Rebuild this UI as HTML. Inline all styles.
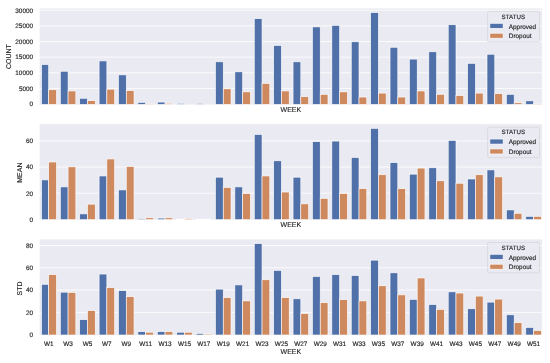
<!DOCTYPE html>
<html><head><meta charset="utf-8"><style>
html,body{margin:0;padding:0;background:#fff;}
body{width:550px;height:363px;overflow:hidden;}
svg{display:block;}
text{font-family:"Liberation Sans",Arial,sans-serif;fill:#262626;text-rendering:geometricPrecision;stroke:#262626;stroke-width:0.15px;}
.tk{font-size:6.4px;}
.lb{font-size:7.0px;}
.lt{font-size:6.2px;}
</style></head><body>
<svg width="550" height="363" viewBox="0 0 550 363">
<rect width="550" height="363" fill="#fff"/>
<rect x="39.3" y="8.05" width="503.1" height="96.45" fill="#EAEAF2"/>
<path d="M39.3 104.5V8.05H542.4V104.5" fill="none" stroke="#fff" stroke-width="0.7"/>
<text x="33.1" y="106.37" class="tk" text-anchor="end">0</text>
<line x1="39.3" y1="88.45" x2="542.4" y2="88.45" stroke="#fff" stroke-width="0.8"/>
<text x="33.1" y="90.73" class="tk" text-anchor="end">5000</text>
<line x1="39.3" y1="72.81" x2="542.4" y2="72.81" stroke="#fff" stroke-width="0.8"/>
<text x="33.1" y="75.08" class="tk" text-anchor="end">10000</text>
<line x1="39.3" y1="57.16" x2="542.4" y2="57.16" stroke="#fff" stroke-width="0.8"/>
<text x="33.1" y="59.43" class="tk" text-anchor="end">15000</text>
<line x1="39.3" y1="41.52" x2="542.4" y2="41.52" stroke="#fff" stroke-width="0.8"/>
<text x="33.1" y="43.79" class="tk" text-anchor="end">20000</text>
<line x1="39.3" y1="25.87" x2="542.4" y2="25.87" stroke="#fff" stroke-width="0.8"/>
<text x="33.1" y="28.14" class="tk" text-anchor="end">25000</text>
<line x1="39.3" y1="10.22" x2="542.4" y2="10.22" stroke="#fff" stroke-width="0.8"/>
<text x="33.1" y="12.5" class="tk" text-anchor="end">30000</text>
<rect x="41.63" y="64.56" width="7.06" height="39.84" fill="#5070A9" stroke="#fff" stroke-width="0.6"/>
<rect x="48.69" y="89.77" width="7.76" height="14.63" fill="#CF895F" stroke="#fff" stroke-width="0.6"/>
<rect x="60.32" y="71.24" width="7.76" height="33.16" fill="#5070A9" stroke="#fff" stroke-width="0.6"/>
<rect x="68.08" y="90.98" width="7.76" height="13.42" fill="#CF895F" stroke="#fff" stroke-width="0.6"/>
<rect x="79.72" y="98.27" width="7.76" height="6.13" fill="#5070A9" stroke="#fff" stroke-width="0.6"/>
<rect x="87.48" y="100.7" width="7.76" height="3.7" fill="#CF895F" stroke="#fff" stroke-width="0.6"/>
<rect x="99.11" y="60.91" width="7.76" height="43.49" fill="#5070A9" stroke="#fff" stroke-width="0.6"/>
<rect x="106.87" y="89.16" width="7.76" height="15.24" fill="#CF895F" stroke="#fff" stroke-width="0.6"/>
<rect x="118.51" y="74.88" width="7.76" height="29.52" fill="#5070A9" stroke="#fff" stroke-width="0.6"/>
<rect x="126.27" y="90.68" width="7.76" height="13.72" fill="#CF895F" stroke="#fff" stroke-width="0.6"/>
<rect x="137.9" y="102.35" width="7.76" height="2.05" fill="#5070A9" stroke="#fff" stroke-width="0.6"/>
<rect x="145.66" y="103.91" width="7.76" height="0.49" fill="#CF895F" stroke="#fff" stroke-width="0.6"/>
<rect x="157.3" y="102.07" width="7.76" height="2.33" fill="#5070A9" stroke="#fff" stroke-width="0.6"/>
<rect x="165.06" y="103.29" width="7.76" height="1.11" fill="#CF895F" stroke="#fff" stroke-width="0.6"/>
<rect x="176.69" y="103.43" width="7.76" height="0.97" fill="#5070A9" stroke="#fff" stroke-width="0.6"/>
<rect x="196.09" y="103.43" width="7.76" height="0.97" fill="#5070A9" stroke="#fff" stroke-width="0.6"/>
<rect x="215.48" y="61.82" width="7.76" height="42.58" fill="#5070A9" stroke="#fff" stroke-width="0.6"/>
<rect x="223.24" y="88.85" width="7.76" height="15.55" fill="#CF895F" stroke="#fff" stroke-width="0.6"/>
<rect x="234.88" y="71.85" width="7.76" height="32.55" fill="#5070A9" stroke="#fff" stroke-width="0.6"/>
<rect x="242.64" y="91.89" width="7.76" height="12.51" fill="#CF895F" stroke="#fff" stroke-width="0.6"/>
<rect x="254.27" y="18.7" width="7.76" height="85.7" fill="#5070A9" stroke="#fff" stroke-width="0.6"/>
<rect x="262.03" y="83.39" width="7.76" height="21.01" fill="#CF895F" stroke="#fff" stroke-width="0.6"/>
<rect x="273.67" y="45.42" width="7.76" height="58.98" fill="#5070A9" stroke="#fff" stroke-width="0.6"/>
<rect x="281.43" y="90.98" width="7.76" height="13.42" fill="#CF895F" stroke="#fff" stroke-width="0.6"/>
<rect x="293.06" y="61.82" width="7.76" height="42.58" fill="#5070A9" stroke="#fff" stroke-width="0.6"/>
<rect x="300.82" y="96.75" width="7.76" height="7.65" fill="#CF895F" stroke="#fff" stroke-width="0.6"/>
<rect x="312.46" y="26.9" width="7.76" height="77.5" fill="#5070A9" stroke="#fff" stroke-width="0.6"/>
<rect x="320.22" y="94.32" width="7.76" height="10.08" fill="#CF895F" stroke="#fff" stroke-width="0.6"/>
<rect x="331.85" y="25.38" width="7.76" height="79.02" fill="#5070A9" stroke="#fff" stroke-width="0.6"/>
<rect x="339.61" y="91.89" width="7.76" height="12.51" fill="#CF895F" stroke="#fff" stroke-width="0.6"/>
<rect x="351.25" y="41.78" width="7.76" height="62.62" fill="#5070A9" stroke="#fff" stroke-width="0.6"/>
<rect x="359.01" y="97.05" width="7.76" height="7.35" fill="#CF895F" stroke="#fff" stroke-width="0.6"/>
<rect x="370.64" y="12.62" width="7.76" height="91.78" fill="#5070A9" stroke="#fff" stroke-width="0.6"/>
<rect x="378.4" y="93.11" width="7.76" height="11.29" fill="#CF895F" stroke="#fff" stroke-width="0.6"/>
<rect x="390.04" y="47.25" width="7.76" height="57.15" fill="#5070A9" stroke="#fff" stroke-width="0.6"/>
<rect x="397.8" y="97.05" width="7.76" height="7.35" fill="#CF895F" stroke="#fff" stroke-width="0.6"/>
<rect x="409.43" y="59.09" width="7.76" height="45.31" fill="#5070A9" stroke="#fff" stroke-width="0.6"/>
<rect x="417.19" y="90.98" width="7.76" height="13.42" fill="#CF895F" stroke="#fff" stroke-width="0.6"/>
<rect x="428.83" y="51.8" width="7.76" height="52.6" fill="#5070A9" stroke="#fff" stroke-width="0.6"/>
<rect x="436.59" y="94.32" width="7.76" height="10.08" fill="#CF895F" stroke="#fff" stroke-width="0.6"/>
<rect x="448.22" y="24.77" width="7.76" height="79.63" fill="#5070A9" stroke="#fff" stroke-width="0.6"/>
<rect x="455.98" y="95.54" width="7.76" height="8.86" fill="#CF895F" stroke="#fff" stroke-width="0.6"/>
<rect x="467.62" y="63.34" width="7.76" height="41.06" fill="#5070A9" stroke="#fff" stroke-width="0.6"/>
<rect x="475.38" y="93.11" width="7.76" height="11.29" fill="#CF895F" stroke="#fff" stroke-width="0.6"/>
<rect x="487.01" y="54.23" width="7.76" height="50.17" fill="#5070A9" stroke="#fff" stroke-width="0.6"/>
<rect x="494.77" y="93.71" width="7.76" height="10.69" fill="#CF895F" stroke="#fff" stroke-width="0.6"/>
<rect x="506.41" y="94.32" width="7.76" height="10.08" fill="#5070A9" stroke="#fff" stroke-width="0.6"/>
<rect x="514.17" y="102.82" width="7.76" height="1.58" fill="#CF895F" stroke="#fff" stroke-width="0.6"/>
<rect x="525.8" y="100.85" width="7.76" height="3.55" fill="#5070A9" stroke="#fff" stroke-width="0.6"/>
<rect x="533.56" y="104.04" width="7.76" height="0.36" fill="#CF895F" stroke="#fff" stroke-width="0.6"/>
<text class="lb" transform="translate(10.96 56.68) rotate(-90)" text-anchor="middle">COUNT</text>
<text class="lb" x="290.85" y="111.9" text-anchor="middle">WEEK</text>
<rect x="487.6" y="11.5" width="51.9" height="30.3" rx="1.2" fill="#EAEAF2" fill-opacity="0.8" stroke="#ccc" stroke-opacity="0.8" stroke-width="0.6"/>
<text class="lt" x="513.3" y="18.5" text-anchor="middle">STATUS</text>
<rect x="489.9" y="23.3" width="13.2" height="5" fill="#5070A9" stroke="#fff" stroke-width="0.6"/>
<text class="tk" x="508.8" y="28.5">Approved</text>
<rect x="489.9" y="33.2" width="13.2" height="5" fill="#CF895F" stroke="#fff" stroke-width="0.6"/>
<text class="tk" x="508.8" y="37.9">Dropout</text>
<rect x="39.3" y="123.8" width="503.1" height="96" fill="#EAEAF2"/>
<path d="M39.3 219.8V123.8H542.4V219.8" fill="none" stroke="#fff" stroke-width="0.7"/>
<text x="33.1" y="221.67" class="tk" text-anchor="end">0</text>
<line x1="39.3" y1="193.24" x2="542.4" y2="193.24" stroke="#fff" stroke-width="0.8"/>
<text x="33.1" y="195.52" class="tk" text-anchor="end">20</text>
<line x1="39.3" y1="167.09" x2="542.4" y2="167.09" stroke="#fff" stroke-width="0.8"/>
<text x="33.1" y="169.36" class="tk" text-anchor="end">40</text>
<line x1="39.3" y1="140.93" x2="542.4" y2="140.93" stroke="#fff" stroke-width="0.8"/>
<text x="33.1" y="143.2" class="tk" text-anchor="end">60</text>
<rect x="41.63" y="179.91" width="7.06" height="39.79" fill="#5070A9" stroke="#fff" stroke-width="0.6"/>
<rect x="48.69" y="162.02" width="7.76" height="57.68" fill="#CF895F" stroke="#fff" stroke-width="0.6"/>
<rect x="60.32" y="186.89" width="7.76" height="32.81" fill="#5070A9" stroke="#fff" stroke-width="0.6"/>
<rect x="68.08" y="166.87" width="7.76" height="52.83" fill="#CF895F" stroke="#fff" stroke-width="0.6"/>
<rect x="79.72" y="213.88" width="7.76" height="5.82" fill="#5070A9" stroke="#fff" stroke-width="0.6"/>
<rect x="87.48" y="204.17" width="7.76" height="15.53" fill="#CF895F" stroke="#fff" stroke-width="0.6"/>
<rect x="99.11" y="175.97" width="7.76" height="43.73" fill="#5070A9" stroke="#fff" stroke-width="0.6"/>
<rect x="106.87" y="158.98" width="7.76" height="60.72" fill="#CF895F" stroke="#fff" stroke-width="0.6"/>
<rect x="118.51" y="189.92" width="7.76" height="29.78" fill="#5070A9" stroke="#fff" stroke-width="0.6"/>
<rect x="126.27" y="166.57" width="7.76" height="53.13" fill="#CF895F" stroke="#fff" stroke-width="0.6"/>
<rect x="137.9" y="218.73" width="7.76" height="0.97" fill="#5070A9" stroke="#fff" stroke-width="0.6"/>
<rect x="145.66" y="217.82" width="7.76" height="1.88" fill="#CF895F" stroke="#fff" stroke-width="0.6"/>
<rect x="157.3" y="218.09" width="7.76" height="1.61" fill="#5070A9" stroke="#fff" stroke-width="0.6"/>
<rect x="165.06" y="217.82" width="7.76" height="1.88" fill="#CF895F" stroke="#fff" stroke-width="0.6"/>
<rect x="176.69" y="219.19" width="7.76" height="0.51" fill="#5070A9" stroke="#fff" stroke-width="0.6"/>
<rect x="184.45" y="218.62" width="7.76" height="1.08" fill="#CF895F" stroke="#fff" stroke-width="0.6"/>
<rect x="196.09" y="219.25" width="7.76" height="0.45" fill="#5070A9" stroke="#fff" stroke-width="0.6"/>
<rect x="203.85" y="219.19" width="7.76" height="0.51" fill="#CF895F" stroke="#fff" stroke-width="0.6"/>
<rect x="215.48" y="177.18" width="7.76" height="42.52" fill="#5070A9" stroke="#fff" stroke-width="0.6"/>
<rect x="223.24" y="187.49" width="7.76" height="32.21" fill="#CF895F" stroke="#fff" stroke-width="0.6"/>
<rect x="234.88" y="186.89" width="7.76" height="32.81" fill="#5070A9" stroke="#fff" stroke-width="0.6"/>
<rect x="242.64" y="193.56" width="7.76" height="26.14" fill="#CF895F" stroke="#fff" stroke-width="0.6"/>
<rect x="254.27" y="134.42" width="7.76" height="85.28" fill="#5070A9" stroke="#fff" stroke-width="0.6"/>
<rect x="262.03" y="175.97" width="7.76" height="43.73" fill="#CF895F" stroke="#fff" stroke-width="0.6"/>
<rect x="273.67" y="160.8" width="7.76" height="58.9" fill="#5070A9" stroke="#fff" stroke-width="0.6"/>
<rect x="281.43" y="192.04" width="7.76" height="27.66" fill="#CF895F" stroke="#fff" stroke-width="0.6"/>
<rect x="293.06" y="177.18" width="7.76" height="42.52" fill="#5070A9" stroke="#fff" stroke-width="0.6"/>
<rect x="300.82" y="203.87" width="7.76" height="15.83" fill="#CF895F" stroke="#fff" stroke-width="0.6"/>
<rect x="312.46" y="141.7" width="7.76" height="78" fill="#5070A9" stroke="#fff" stroke-width="0.6"/>
<rect x="320.22" y="198.41" width="7.76" height="21.29" fill="#CF895F" stroke="#fff" stroke-width="0.6"/>
<rect x="331.85" y="141.09" width="7.76" height="78.61" fill="#5070A9" stroke="#fff" stroke-width="0.6"/>
<rect x="339.61" y="193.56" width="7.76" height="26.14" fill="#CF895F" stroke="#fff" stroke-width="0.6"/>
<rect x="351.25" y="157.47" width="7.76" height="62.23" fill="#5070A9" stroke="#fff" stroke-width="0.6"/>
<rect x="359.01" y="188.71" width="7.76" height="30.99" fill="#CF895F" stroke="#fff" stroke-width="0.6"/>
<rect x="370.64" y="128.35" width="7.76" height="91.35" fill="#5070A9" stroke="#fff" stroke-width="0.6"/>
<rect x="378.4" y="174.76" width="7.76" height="44.94" fill="#CF895F" stroke="#fff" stroke-width="0.6"/>
<rect x="390.04" y="162.62" width="7.76" height="57.08" fill="#5070A9" stroke="#fff" stroke-width="0.6"/>
<rect x="397.8" y="188.71" width="7.76" height="30.99" fill="#CF895F" stroke="#fff" stroke-width="0.6"/>
<rect x="409.43" y="174.15" width="7.76" height="45.55" fill="#5070A9" stroke="#fff" stroke-width="0.6"/>
<rect x="417.19" y="168.08" width="7.76" height="51.62" fill="#CF895F" stroke="#fff" stroke-width="0.6"/>
<rect x="428.83" y="167.78" width="7.76" height="51.92" fill="#5070A9" stroke="#fff" stroke-width="0.6"/>
<rect x="436.59" y="180.82" width="7.76" height="38.88" fill="#CF895F" stroke="#fff" stroke-width="0.6"/>
<rect x="448.22" y="140.48" width="7.76" height="79.22" fill="#5070A9" stroke="#fff" stroke-width="0.6"/>
<rect x="455.98" y="183.25" width="7.76" height="36.45" fill="#CF895F" stroke="#fff" stroke-width="0.6"/>
<rect x="467.62" y="179" width="7.76" height="40.7" fill="#5070A9" stroke="#fff" stroke-width="0.6"/>
<rect x="475.38" y="174.76" width="7.76" height="44.94" fill="#CF895F" stroke="#fff" stroke-width="0.6"/>
<rect x="487.01" y="169.9" width="7.76" height="49.8" fill="#5070A9" stroke="#fff" stroke-width="0.6"/>
<rect x="494.77" y="176.88" width="7.76" height="42.82" fill="#CF895F" stroke="#fff" stroke-width="0.6"/>
<rect x="506.41" y="209.94" width="7.76" height="9.76" fill="#5070A9" stroke="#fff" stroke-width="0.6"/>
<rect x="514.17" y="213.27" width="7.76" height="6.43" fill="#CF895F" stroke="#fff" stroke-width="0.6"/>
<rect x="525.8" y="216.31" width="7.76" height="3.39" fill="#5070A9" stroke="#fff" stroke-width="0.6"/>
<rect x="533.56" y="216.31" width="7.76" height="3.39" fill="#CF895F" stroke="#fff" stroke-width="0.6"/>
<text class="lb" transform="translate(22.11 172.6) rotate(-90)" text-anchor="middle">MEAN</text>
<text class="lb" x="290.85" y="227.2" text-anchor="middle">WEEK</text>
<rect x="487.6" y="127.25" width="51.9" height="30.3" rx="1.2" fill="#EAEAF2" fill-opacity="0.8" stroke="#ccc" stroke-opacity="0.8" stroke-width="0.6"/>
<text class="lt" x="513.3" y="134.25" text-anchor="middle">STATUS</text>
<rect x="489.9" y="139.05" width="13.2" height="5" fill="#5070A9" stroke="#fff" stroke-width="0.6"/>
<text class="tk" x="508.8" y="144.25">Approved</text>
<rect x="489.9" y="148.95" width="13.2" height="5" fill="#CF895F" stroke="#fff" stroke-width="0.6"/>
<text class="tk" x="508.8" y="153.65">Dropout</text>
<rect x="39.3" y="239.05" width="503.1" height="96.05" fill="#EAEAF2"/>
<path d="M39.3 335.1V239.05H542.4V335.1" fill="none" stroke="#fff" stroke-width="0.7"/>
<text x="33.1" y="336.97" class="tk" text-anchor="end">0</text>
<line x1="39.3" y1="312.4" x2="542.4" y2="312.4" stroke="#fff" stroke-width="0.8"/>
<text x="33.1" y="314.67" class="tk" text-anchor="end">20</text>
<line x1="39.3" y1="290.1" x2="542.4" y2="290.1" stroke="#fff" stroke-width="0.8"/>
<text x="33.1" y="292.37" class="tk" text-anchor="end">40</text>
<line x1="39.3" y1="267.8" x2="542.4" y2="267.8" stroke="#fff" stroke-width="0.8"/>
<text x="33.1" y="270.07" class="tk" text-anchor="end">60</text>
<line x1="39.3" y1="245.5" x2="542.4" y2="245.5" stroke="#fff" stroke-width="0.8"/>
<text x="33.1" y="247.77" class="tk" text-anchor="end">80</text>
<rect x="41.63" y="284.31" width="7.06" height="50.69" fill="#5070A9" stroke="#fff" stroke-width="0.6"/>
<rect x="48.69" y="274.65" width="7.76" height="60.35" fill="#CF895F" stroke="#fff" stroke-width="0.6"/>
<rect x="60.32" y="292.17" width="7.76" height="42.83" fill="#5070A9" stroke="#fff" stroke-width="0.6"/>
<rect x="68.08" y="292.47" width="7.76" height="42.53" fill="#CF895F" stroke="#fff" stroke-width="0.6"/>
<rect x="79.72" y="319.64" width="7.76" height="15.36" fill="#5070A9" stroke="#fff" stroke-width="0.6"/>
<rect x="87.48" y="310.58" width="7.76" height="24.42" fill="#CF895F" stroke="#fff" stroke-width="0.6"/>
<rect x="99.11" y="274.05" width="7.76" height="60.95" fill="#5070A9" stroke="#fff" stroke-width="0.6"/>
<rect x="106.87" y="287.64" width="7.76" height="47.36" fill="#CF895F" stroke="#fff" stroke-width="0.6"/>
<rect x="118.51" y="290.66" width="7.76" height="44.34" fill="#5070A9" stroke="#fff" stroke-width="0.6"/>
<rect x="126.27" y="296.69" width="7.76" height="38.31" fill="#CF895F" stroke="#fff" stroke-width="0.6"/>
<rect x="137.9" y="331.62" width="7.76" height="3.38" fill="#5070A9" stroke="#fff" stroke-width="0.6"/>
<rect x="145.66" y="332.22" width="7.76" height="2.78" fill="#CF895F" stroke="#fff" stroke-width="0.6"/>
<rect x="157.3" y="331.62" width="7.76" height="3.38" fill="#5070A9" stroke="#fff" stroke-width="0.6"/>
<rect x="165.06" y="331.62" width="7.76" height="3.38" fill="#CF895F" stroke="#fff" stroke-width="0.6"/>
<rect x="176.69" y="332.22" width="7.76" height="2.78" fill="#5070A9" stroke="#fff" stroke-width="0.6"/>
<rect x="184.45" y="332.22" width="7.76" height="2.78" fill="#CF895F" stroke="#fff" stroke-width="0.6"/>
<rect x="196.09" y="333.43" width="7.76" height="1.57" fill="#5070A9" stroke="#fff" stroke-width="0.6"/>
<rect x="203.85" y="334.03" width="7.76" height="0.97" fill="#CF895F" stroke="#fff" stroke-width="0.6"/>
<rect x="215.48" y="289.15" width="7.76" height="45.85" fill="#5070A9" stroke="#fff" stroke-width="0.6"/>
<rect x="223.24" y="297.6" width="7.76" height="37.4" fill="#CF895F" stroke="#fff" stroke-width="0.6"/>
<rect x="234.88" y="284.92" width="7.76" height="50.08" fill="#5070A9" stroke="#fff" stroke-width="0.6"/>
<rect x="242.64" y="300.92" width="7.76" height="34.08" fill="#CF895F" stroke="#fff" stroke-width="0.6"/>
<rect x="254.27" y="243.6" width="7.76" height="91.4" fill="#5070A9" stroke="#fff" stroke-width="0.6"/>
<rect x="262.03" y="279.78" width="7.76" height="55.22" fill="#CF895F" stroke="#fff" stroke-width="0.6"/>
<rect x="273.67" y="270.42" width="7.76" height="64.58" fill="#5070A9" stroke="#fff" stroke-width="0.6"/>
<rect x="281.43" y="297.6" width="7.76" height="37.4" fill="#CF895F" stroke="#fff" stroke-width="0.6"/>
<rect x="293.06" y="298.81" width="7.76" height="36.19" fill="#5070A9" stroke="#fff" stroke-width="0.6"/>
<rect x="300.82" y="313.6" width="7.76" height="21.4" fill="#CF895F" stroke="#fff" stroke-width="0.6"/>
<rect x="312.46" y="276.46" width="7.76" height="58.54" fill="#5070A9" stroke="#fff" stroke-width="0.6"/>
<rect x="320.22" y="302.73" width="7.76" height="32.27" fill="#CF895F" stroke="#fff" stroke-width="0.6"/>
<rect x="331.85" y="274.65" width="7.76" height="60.35" fill="#5070A9" stroke="#fff" stroke-width="0.6"/>
<rect x="339.61" y="299.71" width="7.76" height="35.29" fill="#CF895F" stroke="#fff" stroke-width="0.6"/>
<rect x="351.25" y="275.56" width="7.76" height="59.44" fill="#5070A9" stroke="#fff" stroke-width="0.6"/>
<rect x="359.01" y="300.92" width="7.76" height="34.08" fill="#CF895F" stroke="#fff" stroke-width="0.6"/>
<rect x="370.64" y="260.16" width="7.76" height="74.84" fill="#5070A9" stroke="#fff" stroke-width="0.6"/>
<rect x="378.4" y="285.82" width="7.76" height="49.18" fill="#CF895F" stroke="#fff" stroke-width="0.6"/>
<rect x="390.04" y="272.84" width="7.76" height="62.16" fill="#5070A9" stroke="#fff" stroke-width="0.6"/>
<rect x="397.8" y="294.88" width="7.76" height="40.12" fill="#CF895F" stroke="#fff" stroke-width="0.6"/>
<rect x="409.43" y="299.41" width="7.76" height="35.59" fill="#5070A9" stroke="#fff" stroke-width="0.6"/>
<rect x="417.19" y="277.97" width="7.76" height="57.03" fill="#CF895F" stroke="#fff" stroke-width="0.6"/>
<rect x="428.83" y="304.55" width="7.76" height="30.45" fill="#5070A9" stroke="#fff" stroke-width="0.6"/>
<rect x="436.59" y="309.38" width="7.76" height="25.62" fill="#CF895F" stroke="#fff" stroke-width="0.6"/>
<rect x="448.22" y="291.86" width="7.76" height="43.14" fill="#5070A9" stroke="#fff" stroke-width="0.6"/>
<rect x="455.98" y="293.07" width="7.76" height="41.93" fill="#CF895F" stroke="#fff" stroke-width="0.6"/>
<rect x="467.62" y="308.77" width="7.76" height="26.23" fill="#5070A9" stroke="#fff" stroke-width="0.6"/>
<rect x="475.38" y="296.09" width="7.76" height="38.91" fill="#CF895F" stroke="#fff" stroke-width="0.6"/>
<rect x="487.01" y="302.13" width="7.76" height="32.87" fill="#5070A9" stroke="#fff" stroke-width="0.6"/>
<rect x="494.77" y="299.11" width="7.76" height="35.89" fill="#CF895F" stroke="#fff" stroke-width="0.6"/>
<rect x="506.41" y="314.81" width="7.76" height="20.19" fill="#5070A9" stroke="#fff" stroke-width="0.6"/>
<rect x="514.17" y="322.66" width="7.76" height="12.34" fill="#CF895F" stroke="#fff" stroke-width="0.6"/>
<rect x="525.8" y="327.49" width="7.76" height="7.51" fill="#5070A9" stroke="#fff" stroke-width="0.6"/>
<rect x="533.56" y="330.51" width="7.76" height="4.49" fill="#CF895F" stroke="#fff" stroke-width="0.6"/>
<text class="lb" transform="translate(22.11 288.38) rotate(-90)" text-anchor="middle">STD</text>
<text class="lb" x="290.85" y="354" text-anchor="middle">WEEK</text>
<text class="tk" x="48.69" y="345.7" text-anchor="middle">W1</text>
<text class="tk" x="68.08" y="345.7" text-anchor="middle">W3</text>
<text class="tk" x="87.48" y="345.7" text-anchor="middle">W5</text>
<text class="tk" x="106.87" y="345.7" text-anchor="middle">W7</text>
<text class="tk" x="126.27" y="345.7" text-anchor="middle">W9</text>
<text class="tk" x="145.66" y="345.7" text-anchor="middle">W11</text>
<text class="tk" x="165.06" y="345.7" text-anchor="middle">W13</text>
<text class="tk" x="184.45" y="345.7" text-anchor="middle">W15</text>
<text class="tk" x="203.85" y="345.7" text-anchor="middle">W17</text>
<text class="tk" x="223.24" y="345.7" text-anchor="middle">W19</text>
<text class="tk" x="242.64" y="345.7" text-anchor="middle">W21</text>
<text class="tk" x="262.03" y="345.7" text-anchor="middle">W23</text>
<text class="tk" x="281.43" y="345.7" text-anchor="middle">W25</text>
<text class="tk" x="300.82" y="345.7" text-anchor="middle">W27</text>
<text class="tk" x="320.22" y="345.7" text-anchor="middle">W29</text>
<text class="tk" x="339.61" y="345.7" text-anchor="middle">W31</text>
<text class="tk" x="359.01" y="345.7" text-anchor="middle">W33</text>
<text class="tk" x="378.4" y="345.7" text-anchor="middle">W35</text>
<text class="tk" x="397.8" y="345.7" text-anchor="middle">W37</text>
<text class="tk" x="417.19" y="345.7" text-anchor="middle">W39</text>
<text class="tk" x="436.59" y="345.7" text-anchor="middle">W41</text>
<text class="tk" x="455.98" y="345.7" text-anchor="middle">W43</text>
<text class="tk" x="475.38" y="345.7" text-anchor="middle">W45</text>
<text class="tk" x="494.77" y="345.7" text-anchor="middle">W47</text>
<text class="tk" x="514.17" y="345.7" text-anchor="middle">W49</text>
<text class="tk" x="533.56" y="345.7" text-anchor="middle">W51</text>
<rect x="487.6" y="242.5" width="51.9" height="30.3" rx="1.2" fill="#EAEAF2" fill-opacity="0.8" stroke="#ccc" stroke-opacity="0.8" stroke-width="0.6"/>
<text class="lt" x="513.3" y="249.5" text-anchor="middle">STATUS</text>
<rect x="489.9" y="254.3" width="13.2" height="5" fill="#5070A9" stroke="#fff" stroke-width="0.6"/>
<text class="tk" x="508.8" y="259.5">Approved</text>
<rect x="489.9" y="264.2" width="13.2" height="5" fill="#CF895F" stroke="#fff" stroke-width="0.6"/>
<text class="tk" x="508.8" y="268.9">Dropout</text>
</svg>
</body></html>
